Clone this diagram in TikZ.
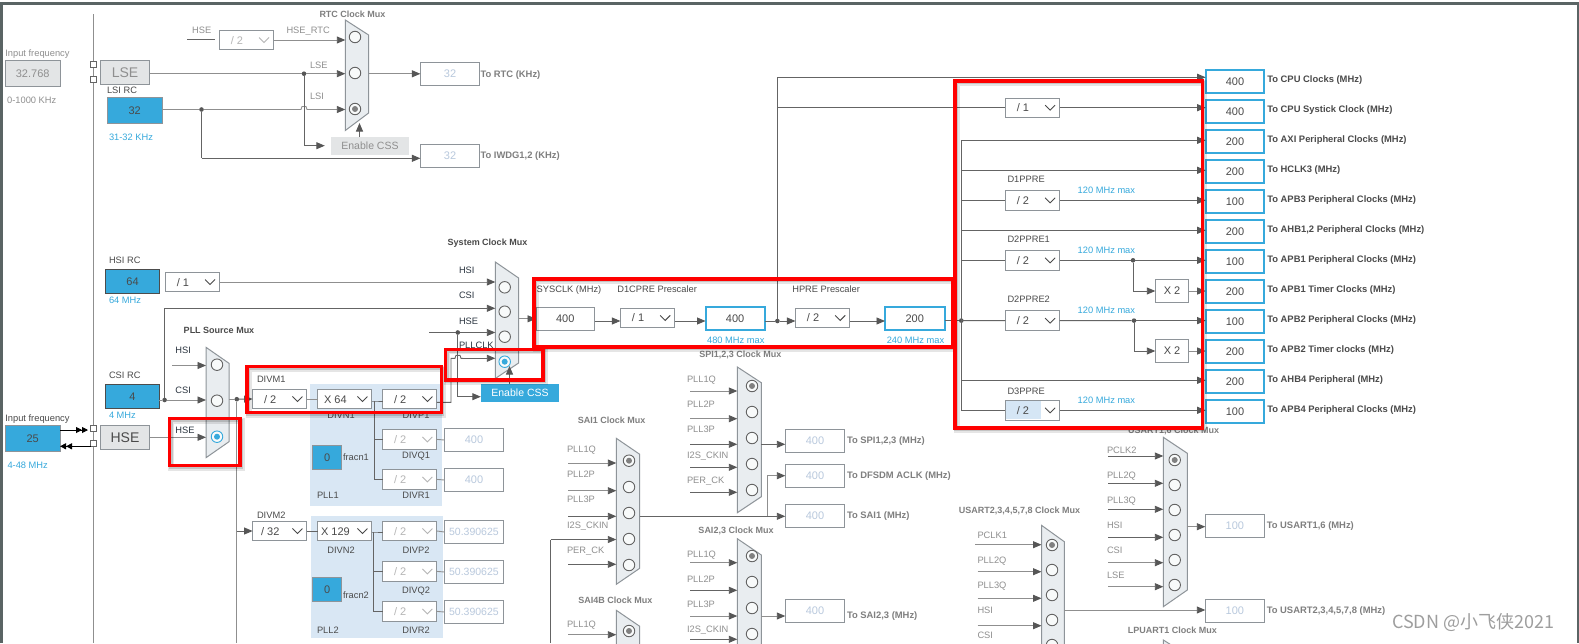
\documentclass[tikz,border=0pt]{standalone}
\usepackage{fontspec}
\setmainfont{Liberation Sans}
\newfontfamily\cjkfont{Noto Sans CJK SC}
\usetikzlibrary{arrows.meta}
\definecolor{txt}{HTML}{4A4A4A}
\definecolor{txtdark}{HTML}{2B3540}
\definecolor{txtoff}{HTML}{8F8F8F}
\definecolor{bldoff}{HTML}{7F7F7F}
\definecolor{numoff}{HTML}{B9C9DD}
\definecolor{edge}{HTML}{8E9499}
\definecolor{wire}{HTML}{646464}
\definecolor{wirelt}{HTML}{8F8F8F}
\definecolor{tip}{HTML}{565656}
\definecolor{stmblue}{HTML}{36A9DC}
\definecolor{pllbg}{HTML}{D9E7F4}
\definecolor{grayfill}{HTML}{E3E5E6}
\definecolor{muxfill}{HTML}{E9EDF0}
\definecolor{selfill}{HTML}{D5E6F5}
\definecolor{selgrey}{HTML}{B5B5B5}
\definecolor{framec}{HTML}{5A6464}
\tikzset{
  lbl/.style={anchor=west,inner sep=0pt,outer sep=0pt,font=\fontsize{9.3}{10}\selectfont,text=txt,text height=7pt,text depth=0pt},
  lbloff/.style={lbl,text=txtoff},
  lbldark/.style={lbl,text=txtdark},
  bluetxt/.style={lbl,text=stmblue},
  bld/.style={lbl,font=\fontsize{9}{10}\selectfont\bfseries,text=txt},
  bldo/.style={lbl,font=\fontsize{9}{10}\selectfont\bfseries,text=bldoff},
  towide/.style={font=\fontsize{9.4}{10}\selectfont\bfseries},
  ctr/.style={anchor=center},
  boxb/.style={draw=edge,line width=1pt,inner sep=0pt,outer sep=0pt,font=\fontsize{11}{12}\selectfont,text=txt},
  boxoff/.style={boxb,text=numoff},
  boxout/.style={boxb,draw=stmblue,line width=2pt},
  boxfill/.style={boxb,fill=stmblue,text=txt},
  boxgrey/.style={boxb,fill=grayfill,text=txtoff},
  wr/.style={draw=wire,line width=0.9pt},
  wrl/.style={draw=wirelt,line width=0.9pt},
  arr/.style={wr,-{Triangle[length=8.5pt,width=7pt,color=tip]}},
  arrl/.style={wrl,-{Triangle[length=8.5pt,width=7pt,color=tip]}},
  jdot/.style={circle,fill=tip,inner sep=0pt,minimum size=4.6pt,outer sep=0pt},
  port/.style={rectangle,draw=wire,fill=white,line width=0.8pt,minimum size=6pt,inner sep=0pt,outer sep=0pt},
  rad/.style={circle,draw=wire,fill=white!70!muxfill,line width=0.9pt,minimum size=11.5pt,inner sep=0pt},
  radb/.style={rad,draw=stmblue},
  raddot/.style={circle,inner sep=0pt,minimum size=6pt},
  redframe/.style={draw=red,line width=3.4pt},
  redshadowa/.style={draw=black,opacity=0.10,line width=6pt},
  redshadowb/.style={draw=black,opacity=0.14,line width=3.5pt},
}
\newcounter{autoid}
\newcommand{\lab}[4][lbl]{\stepcounter{autoid}\node[#1] (t\theautoid) at (#2,#3) {#4};}
\newcommand{\bx}[7][boxb]{%
  \pgfmathsetmacro\wdd{#5-#3}\pgfmathsetmacro\htt{#6-#4}%
  \pgfmathsetmacro\cxx{(#3+#5)/2}\pgfmathsetmacro\cyy{(#4+#6)/2}%
  \node[#1,minimum width=\wdd pt,minimum height=\htt pt] (#2) at (\cxx,\cyy) {#7};}
% select: name, x, y, text, colour of text and chevron, text offset
\newcommand{\sel}[6]{%
  \pgfmathsetmacro\cxx{#2+27.15}\pgfmathsetmacro\cyy{#3+9.7}%
  \pgfmathsetmacro\txx{#2+#6}%
  \pgfmathsetmacro\cha{#2+39.8}\pgfmathsetmacro\chb{#2+44.8}\pgfmathsetmacro\chc{#2+49.8}%
  \pgfmathsetmacro\chu{#3+7.2}\pgfmathsetmacro\chd{#3+12.2}%
  \node[draw=edge,fill=white,line width=1pt,minimum width=54.3pt,minimum height=19.4pt,inner sep=0pt,outer sep=0pt] (#1) at (\cxx,\cyy) {};
  \node[lbl,font=\fontsize{11}{12}\selectfont,text=#5,text height=8pt,text depth=0pt] (#1-t) at (\txx,\cyy) {#4};
  \draw[#5,line width=0.9pt] (\cha,\chu) -- (\chb,\chd) -- (\chc,\chu);}
% mux: name, xl, xr, ytop-left, ytop-right, ybot-right, ybot-left
\newcommand{\mux}[7]{%
  \pgfmathsetmacro\wdd{#3-#2}\pgfmathsetmacro\htt{#7-#4}%
  \pgfmathsetmacro\cxx{(#2+#3)/2}\pgfmathsetmacro\cyy{(#4+#7)/2}%
  \node[inner sep=0pt,outer sep=0pt,minimum width=\wdd pt,minimum height=\htt pt] (#1) at (\cxx,\cyy) {};
  \filldraw[fill=muxfill,draw=edge,line width=1pt] (#2,#4) -- (#3,#5) -- (#3,#6) -- (#2,#7) -- cycle;}
\newcommand{\rd}[3]{\stepcounter{autoid}\node[rad] (r\theautoid) at (#1,#2) {};\ifx#3n\else\node[raddot,fill=#3] (rd\theautoid) at (#1,#2) {};\fi}
\newcommand{\rdb}[2]{\stepcounter{autoid}\node[radb] (r\theautoid) at (#1,#2) {};\node[raddot,fill=stmblue] (rd\theautoid) at (#1,#2) {};}
% mux input: mux, label, label x, label y, line x, line y, label style, wire style
\newcommand{\inw}[8]{%
  \lab[#7]{#3}{#4}{#2}\coordinate (c\theautoid) at (#5,#6);
  \draw[#8] (c\theautoid) -- (#1.west |- c\theautoid);}
\begin{document}
\begin{tikzpicture}[x=1pt,y=-1pt]
\clip (0,0) rectangle (1579,643);
\useasboundingbox (0,0) rectangle (1579,643);
\fill[white] (0,0) rectangle (1579,643);
% frame
\coordinate (fa) at (1.6,643);\coordinate (fb) at (1.6,3.4);\coordinate (fc) at (1577.8,3.4);\coordinate (fd) at (1577.8,643);
\draw[draw=framec,line width=2.4pt] (fa) -- (fb) -- (fc) -- (fd);
% left bus
\coordinate (busT) at (93.5,14);\coordinate (busB) at (93.5,643);
\draw[wrl] (busT) -- (busB);
% PLL panels
\bx[fill=pllbg]{pllA}{310}{384}{442}{505.7}{}
\bx[fill=pllbg]{pllB}{311}{516}{443}{637.7}{}
% input low
\lab[lbloff]{5.4}{53}{Input frequency}
\bx[boxgrey]{lsein}{5.4}{60.3}{60}{86.3}{32.768}
\lab[lbloff]{7.2}{99.5}{0-1000 KHz}
\node[port] (p1) at (93.5,64.5) {};
\node[port] (p2) at (93.5,79.5) {};
\bx[boxgrey,font=\fontsize{14}{15}\selectfont]{lse}{100.4}{60.3}{149.6}{84.3}{LSE}
\lab[lbl]{107}{89.5}{LSI RC}
\bx[boxfill]{lsi}{107.4}{97.3}{162}{123.7}{32}
\lab[bluetxt]{109}{136.5}{31-32 KHz}
% RTC mux
\lab[bldo,ctr]{352.5}{13.7}{RTC Clock Mux}
\lab[lbloff]{192.2}{29.5}{HSE}
\coordinate (hseA) at (187,39.3);\coordinate (hseB) at (215,39.3);
\draw[wr] (hseA) -- (hseB);
\sel{selrtc}{219.3}{30.3}{/ 2}{selgrey}{11.5}
\lab[lbloff]{286.5}{29.5}{HSE\_RTC}
\mux{mrtc}{345.3}{368.6}{20}{35}{113}{130.5}
\rd{355}{37}{n}\rd{355}{73}{n}\rd{355}{109}{gray}
\draw[arrl] (selrtc.east) -- (mrtc.west |- selrtc.east);
\lab[lbloff]{310}{64.5}{LSE}
\lab[lbloff]{310}{95.5}{LSI}
\node[jdot] (d1) at (304,73.7) {};
\node[jdot] (d2) at (201.5,109.5) {};
\coordinate (bmp) at (301,109.5);
\draw[wrl] (lse.east |- d1) -- (d1);
\draw[arrl] (d1) -- (mrtc.west |- d1);
\draw[wrl] (lsi.east |- d2) -- (d2) -- (bmp) -- ++(1,-3) -- ++(4,0) -- ++(1,3) -- ++(2,0);
\coordinate (bmpb) at (307,109.5);
\draw[arrl] (bmpb) -- (mrtc.west |- bmpb);
\bx[fill=grayfill,draw=none,text=txtoff,font=\fontsize{10.5}{12}\selectfont]{css1}{331}{137}{409}{155}{Enable CSS}
\coordinate (cs1a) at (304,145.7);
\draw[wr] (d1) -- (cs1a);
\draw[arr] (cs1a) -- ([xshift=-6pt]css1.west |- cs1a);
\coordinate (cs1b) at (359.5,123);
\draw[arr] (css1.north -| cs1b) -- (cs1b);
\bx[boxoff]{oRTC}{420.4}{62.3}{479.6}{85.3}{32}
\draw[arrl] (mrtc.east |- oRTC.west) -- (oRTC.west);
\lab[bldo,towide]{480.5}{73.7}{To RTC (KHz)}
\bx[boxoff]{oIW}{420.4}{144.3}{479.6}{167.3}{32}
\lab[bldo,towide]{480.5}{154.7}{To IWDG1,2 (KHz)}
\coordinate (iwc) at (201.5,158.3);
\draw[wr] (d2) -- (iwc);
\draw[arr] (iwc) -- (oIW.west |- iwc);
% HSI
\lab[lbl]{109}{260}{HSI RC}
\bx[boxfill,draw=black!70]{hsi}{105.6}{269.3}{159.4}{293.3}{64}
\lab[bluetxt]{109}{299.7}{64 MHz}
\sel{sel1}{165.3}{272.3}{/ 1}{txt}{11.5}
% System mux
\lab[bld,ctr]{487.5}{241.7}{System Clock Mux}
\mux{msys}{495.3}{518.6}{262}{278}{363}{378.5}
\rd{504.7}{287.3}{n}\rd{504.7}{311.7}{n}\rd{504.7}{336.7}{n}\rdb{504.7}{361.7}
\lab[lbldark]{459}{269.7}{HSI}
\lab[lbldark]{459}{294.5}{CSI}
\lab[lbldark]{459}{320.5}{HSE}
\lab[lbldark]{459}{344.7}{PLLCLK}
\draw[arrl] (sel1.east) -- (msys.west |- sel1.east);
% CSI
\lab[lbl]{109}{374.7}{CSI RC}
\bx[boxfill,draw=black!70]{csi}{105.6}{384.3}{159.4}{408.3}{4}
\lab[bluetxt]{109}{415}{4 MHz}
\node[jdot] (d3) at (164.6,400) {};
\coordinate (csc) at (164.6,308.3);
\draw[wr] (d3) -- (csc);
\draw[arr] (csc) -- (msys.west |- csc);
\draw[wrl] (csi.east |- d3) -- (d3);
% HSE in system mux
\node[jdot] (d4) at (457.8,332.5) {};
\coordinate (hs0) at (429,332.5);
\draw[wr] (hs0) -- (d4);
\draw[arr] (d4) -- (msys.west |- d4);
% PLL mux
\lab[bld,ctr]{219}{329.7}{PLL Source Mux}
\mux{mpll}{206}{229}{347.3}{363.3}{441.7}{457.7}
\rd{217}{364.7}{n}\rd{217}{400.7}{n}\rdb{217}{436.7}
\inw{mpll}{HSI}{175.4}{349.7}{172}{365.5}{lbldark}{arrl}
\lab[lbldark]{175.4}{389.5}{CSI}
\lab[lbldark]{175.4}{429.7}{HSE}
\draw[arrl] (d3) -- (mpll.west |- d3);
% Input frequency HSE
\lab[lbl]{5.4}{418}{Input frequency}
\bx[boxfill]{hsein}{5.4}{425.3}{60}{451.7}{25}
\lab[bluetxt]{7.5}{464.5}{4-48 MHz}
\node[port] (p3) at (93.5,428.3) {};
\node[port] (p4) at (93.5,443.7) {};
\bx[boxgrey,text=txt,font=\fontsize{14}{15}\selectfont]{hse}{100.4}{425.3}{149.6}{449.3}{HSE}
\coordinate (if1) at (88,430);\coordinate (if2) at (60,446.3);
\draw[black,line width=0.9pt,-{Triangle[length=6pt,width=6pt,color=black]Triangle[length=6pt,width=6pt,color=black]}] (hsein.east |- if1) -- (if1);
\draw[black,line width=0.9pt,-{Triangle[length=6pt,width=6pt,color=black]Triangle[length=6pt,width=6pt,color=black]}] (p4.west |- if2) -- (if2);
\draw[arrl] (hse.east) -- (mpll.west |- hse.east);
% PLL1
\node[jdot] (d5) at (236.8,399.2) {};
\coordinate (vb) at (236.8,643);
\draw[wrl] (mpll.east |- d5) -- (d5) -- (vb);
\lab[lbl]{257}{379.3}{DIVM1}
\sel{m1}{252.6}{389.3}{/ 2}{txt}{11.5}
\sel{n1}{317.6}{389.3}{X 64}{txt}{6.5}
\sel{pp1}{382.6}{389.3}{/ 2}{txt}{11.5}
\draw[arr] (d5) -- (m1.west);
\draw[wrl] (m1.east) -- (n1.west);
\coordinate (j1) at (374.3,401);
\draw[wr] (n1.east |- j1) -- (j1) -- (pp1.west |- j1);
\lab[lbl,ctr]{341}{415}{DIVN1}
\lab[lbl,ctr]{416}{415}{DIVP1}
\sel{q1}{382.6}{429.7}{/ 2}{selgrey}{11.5}
\lab[lbl,ctr]{416}{454.7}{DIVQ1}
\sel{rr1}{382.6}{469.7}{/ 2}{selgrey}{11.5}
\lab[lbl,ctr]{416}{494.7}{DIVR1}
\draw[wr] (j1) |- (q1.west);
\draw[wr] (j1) |- (rr1.west);
\bx[boxoff,fill=white]{oq1}{444.3}{428.7}{503.6}{451.3}{400}
\bx[boxoff,fill=white]{or1}{444.3}{468.7}{503.6}{491.3}{400}
\draw[wrl] (q1.east) -- (oq1.west);
\draw[wrl] (rr1.east) -- (or1.west);
\bx[boxfill,text=txt]{fr1}{312.5}{445.3}{341.8}{469.7}{0}
\lab[lbl]{343}{456.7}{fracn1}
\lab[lbl]{317}{494.7}{PLL1}
% PLLCLK
\coordinate (k1) at (451,402.3);\coordinate (k2) at (451,358.3);\coordinate (k3) at (455,358.3);
\draw[wr] (pp1.east |- k1) -- (k1) -- (k2) -- (k3) -- ++(1,-3) -- ++(4,0) -- ++(1,3) -- ++(2,0) coordinate (k4);
\draw[arr] (k4) -- (msys.west |- k4);
\coordinate (h1) at (457.8,396.7);
\draw[wr] (d4) -- (h1);
\bx[fill=stmblue,draw=none,text=white,font=\fontsize{10.5}{12}\selectfont]{css2}{481}{384}{559}{402}{Enable CSS}
\draw[arr] (h1) -- (css2.west |- h1);
\coordinate (e2) at (509.5,366);
\draw[arr] (css2.north -| e2) -- (e2);
% PLL2
\lab[lbl]{257}{514.7}{DIVM2}
\sel{m2}{252.6}{521.3}{/ 32}{txt}{8.5}
\sel{n2}{317.6}{521.3}{X 129}{txt}{3.5}
\sel{pp2}{382.6}{521.3}{/ 2}{selgrey}{11.5}
\sel{q2}{382.6}{561.7}{/ 2}{selgrey}{11.5}
\sel{rr2}{382.6}{601.7}{/ 2}{selgrey}{11.5}
\coordinate (vm2) at (236.8,531);
\draw[arr] (vm2) -- (m2.west);
\draw[wr] (m2.east) -- (n2.west);
\coordinate (j2) at (373.2,532);
\draw[wr] (n2.east |- j2) -- (j2) -- (pp2.west |- j2);
\draw[wr] (j2) |- (q2.west);
\draw[wr] (j2) |- (rr2.west);
\lab[lbl,ctr]{341}{549.7}{DIVN2}
\lab[lbl,ctr]{416}{549.7}{DIVP2}
\lab[lbl,ctr]{416}{589.7}{DIVQ2}
\lab[lbl,ctr]{416}{629.7}{DIVR2}
\lab[lbl]{317}{629.7}{PLL2}
\bx[boxfill,text=txt]{fr2}{312.5}{577.3}{341.8}{601.7}{0}
\lab[lbl]{343}{594.7}{fracn2}
\bx[boxoff,fill=white,font=\fontsize{10.5}{12}\selectfont]{op2}{444.3}{520.7}{503.6}{543.3}{50.390625}
\bx[boxoff,fill=white,font=\fontsize{10.5}{12}\selectfont]{oq2}{444.3}{560.7}{503.6}{583.3}{50.390625}
\bx[boxoff,fill=white,font=\fontsize{10.5}{12}\selectfont]{or2}{444.3}{600.7}{503.6}{623.3}{50.390625}
\draw[wrl] (pp2.east) -- (op2.west);
\draw[wrl] (q2.east) -- (oq2.west);
\draw[wrl] (rr2.east) -- (or2.west);
% SYSCLK row
\lab[lbl]{536.7}{289.3}{SYSCLK (MHz)}
\lab[lbl]{617.3}{289.3}{D1CPRE Prescaler}
\lab[lbl]{792.3}{289.3}{HPRE Prescaler}
\bx{sys}{536}{307.3}{594.6}{330.3}{400}
\draw[arrl] (msys.east |- sys.west) -- (sys.west);
\sel{d1cp}{620.4}{308.2}{/ 1}{txt}{11.5}
\bx[boxout]{s2}{705.5}{307.3}{764.7}{330.3}{400}
\lab[bluetxt,ctr]{735.8}{339.7}{480 MHz max}
\sel{hpre}{795.4}{308.2}{/ 2}{txt}{11.5}
\bx[boxout]{s3}{885}{307.3}{944.5}{330.3}{200}
\lab[bluetxt,ctr]{915.5}{339.7}{240 MHz max}
\coordinate (rw) at (600,321);
\draw[arr] (sys.east |- rw) -- (d1cp.west |- rw);
\draw[arr] (d1cp.east |- rw) -- (s2.west |- rw);
\node[jdot] (d6) at (777.4,321) {};
\draw[wr] (s2.east |- rw) -- (d6);
\draw[arr] (d6) -- (hpre.west |- rw);
\draw[arr] (hpre.east |- rw) -- (s3.west |- rw);
\node[jdot] (bus) at (961.3,320.6) {};
\draw[wr] (s3.east |- bus) -- (bus);
% right outputs
\foreach \i/\v/\t in {1/400/To CPU Clocks (MHz),2/400/To CPU Systick Clock (MHz),3/200/To AXI Peripheral Clocks (MHz),4/200/To HCLK3 (MHz),5/100/To APB3 Peripheral Clocks (MHz),6/200/{To AHB1,2 Peripheral Clocks (MHz)},7/100/To APB1 Peripheral Clocks (MHz),8/200/To APB1 Timer Clocks (MHz),9/100/To APB2 Peripheral Clocks (MHz),10/200/To APB2 Timer clocks (MHz),11/200/To AHB4 Peripheral (MHz),12/100/To APB4 Peripheral Clocks (MHz)}{
  \pgfmathsetmacro\ya{70.3+30*(\i-1)}\pgfmathsetmacro\yb{\ya+22.3}\pgfmathsetmacro\yl{79.4+30*(\i-1)}
  \bx[boxout]{o\i}{1205.7}{\ya}{1264.3}{\yb}{\v}
  \lab[bld,towide]{1267.3}{\yl}{\t}
}
\coordinate (top) at (777.4,77.3);
\coordinate (ln2) at (777.4,107.7);
\draw[wr] (d6) -- (top);
\draw[arr] (top) -- (o1.west |- top);
\sel{s1}{1005.3}{98}{/ 1}{txt}{11.5}
\draw[wr] (ln2) -- (s1.west);
\draw[arr] (s1.east) -- (o2.west |- s1.east);
\coordinate (bt) at (961.3,140.3);\coordinate (bb) at (961.3,410.3);
\draw[wr] (bt) -- (bb);
\draw[arr] (bt) -- (o3.west |- bt);
\coordinate (l4) at (961.3,170.3);\draw[arr] (l4) -- (o4.west |- l4);
\coordinate (l6) at (961.3,230.3);\draw[arr] (l6) -- (o6.west |- l6);
\coordinate (l11) at (961.3,380.3);\draw[arr] (l11) -- (o11.west |- l11);
\lab[lbl]{1007.5}{179.3}{D1PPRE}
\lab[lbl]{1007.5}{239.3}{D2PPRE1}
\lab[lbl]{1007.5}{299.3}{D2PPRE2}
\lab[lbl]{1007.5}{391.3}{D3PPRE}
\lab[bluetxt]{1077.7}{189.7}{120 MHz max}
\lab[bluetxt]{1077.7}{249.7}{120 MHz max}
\lab[bluetxt]{1077.7}{309.7}{120 MHz max}
\lab[bluetxt]{1077.7}{399.7}{120 MHz max}
\sel{dp1}{1005.3}{190.6}{/ 2}{txt}{11.5}
\sel{dp2}{1005.3}{250.6}{/ 2}{txt}{11.5}
\sel{dp3}{1005.3}{310.9}{/ 2}{txt}{11.5}
\sel{dp4}{1005.3}{400.6}{}{txt}{11.5}
\bx[fill=selfill,draw=none]{dp4f}{1005.9}{401.2}{1041}{419.4}{}
\lab[lbl,font=\fontsize{11}{12}\selectfont,text height=8pt,text depth=0pt]{1016.8}{410.3}{/ 2}
\draw[wr] (bus.center |- dp1.west) -- (dp1.west);
\draw[wr] (bus.center |- dp2.west) -- (dp2.west);
\draw[wr] (bus.center) -- (dp3.west);
\draw[wr] (bus.center |- dp4.west) -- (dp4.west);
\draw[arr] (dp1.east) -- (o5.west |- dp1.east);
\node[jdot] (d7) at (1133,260.3) {};
\node[jdot] (d8) at (1134,320.6) {};
\draw[wr] (dp2.east) -- (d7);
\draw[arr] (d7) -- (o7.west |- d7);
\draw[wr] (dp3.east) -- (d8);
\draw[arr] (d8) -- (o9.west |- d8);
\draw[arr] (dp4.east) -- (o12.west |- dp4.east);
\bx[boxb]{x21}{1155.3}{279.7}{1188.7}{302.3}{X 2}
\bx[boxb]{x22}{1155.3}{339.7}{1188.7}{362.3}{X 2}
\draw[arr] (d7) |- (x21.west);
\draw[arr] (d8) |- (x22.west);
\draw[arrl] (x21.east) -- (o8.west |- x21.east);
\draw[arrl] (x22.east) -- (o10.west |- x22.east);
% SPI mux
\lab[bldo,ctr]{740.3}{354.3}{SPI1,2,3 Clock Mux}
\mux{mspi}{737.3}{761.3}{367}{382.7}{496.7}{512.7}
\rd{752}{386}{gray}\rd{752}{412}{n}\rd{752}{438}{n}\rd{752}{464}{n}\rd{752}{490}{n}
\inw{mspi}{PLL1Q}{687}{379.3}{690}{391}{lbloff}{arrl}
\inw{mspi}{PLL2P}{687}{404.3}{690}{418.7}{lbloff}{arrl}
\inw{mspi}{PLL3P}{687}{429.3}{690}{444.3}{lbloff}{arr}
\inw{mspi}{I2S\_CKIN}{687}{454.7}{690}{467.3}{lbloff}{arr}
\inw{mspi}{PER\_CK}{687}{479.7}{690}{492.3}{lbloff}{arr}
\bx[boxoff]{ospi}{785.3}{429.3}{844.7}{452.7}{400}
\coordinate (osp) at (761.3,444.3);
\draw[arr] (osp) -- (ospi.west |- osp);
\lab[bldo,towide]{847}{439.7}{To SPI1,2,3 (MHz)}
\bx[boxoff]{odf}{785.3}{464.3}{844.7}{487.3}{400}
\lab[bldo,towide]{847}{474.7}{To DFSDM ACLK (MHz)}
\bx[boxoff]{osai}{785.3}{504.3}{844.7}{527.3}{400}
\lab[bldo,towide]{847}{514.7}{To SAI1 (MHz)}
% SAI1 mux
\lab[bldo,ctr]{611.7}{419.7}{SAI1 Clock Mux}
\mux{msai}{616.3}{639.7}{438.3}{454.3}{568.3}{584.3}
\rd{629}{460.7}{gray}\rd{629}{487}{n}\rd{629}{513}{n}\rd{629}{539}{n}\rd{629}{565}{n}
\inw{msai}{PLL1Q}{567}{449.3}{568}{463}{lbloff}{arrl}
\inw{msai}{PLL2P}{567}{474.3}{568}{490.7}{lbloff}{arrl}
\inw{msai}{PLL3P}{567}{499.3}{568}{516.3}{lbloff}{arr}
\lab[lbloff]{567}{524.7}{I2S\_CKIN}
\inw{msai}{PER\_CK}{567}{549.7}{568}{564.3}{lbloff}{arr}
\coordinate (i2sa) at (550.6,643);\coordinate (i2sb) at (550.6,539.5);
\draw[wr] (i2sa) -- (i2sb);
\draw[arr] (i2sb) -- (msai.west |- i2sb);
\coordinate (jsai) at (767.3,516.3);
\coordinate (jdf) at (767.3,475.7);
\draw[wr] (msai.east |- jsai) -- (jsai);
\draw[arr] (jsai) -- (osai.west |- jsai);
\draw[wrl] (jsai) -- (jdf);
\draw[arrl] (jdf) -- (odf.west |- jdf);
% SAI2,3
\lab[bldo,ctr]{736}{529.7}{SAI2,3 Clock Mux}
\mux{msa2}{737.3}{761.3}{538.7}{555}{669}{685}
\rd{752}{556}{gray}\rd{752}{582}{n}\rd{752}{608}{n}\rd{752}{634}{n}
\inw{msa2}{PLL1Q}{687}{554.3}{690}{562.7}{lbloff}{arrl}
\inw{msa2}{PLL2P}{687}{579.3}{690}{590.3}{lbloff}{arr}
\inw{msa2}{PLL3P}{687}{604.3}{690}{616}{lbloff}{arrl}
\inw{msa2}{I2S\_CKIN}{687}{629.3}{690}{639.3}{lbloff}{arr}
\bx[boxoff]{osa2}{785.3}{599.3}{844.7}{622.5}{400}
\coordinate (osb) at (761.3,616);
\draw[arrl] (osb) -- (osa2.west |- osb);
\lab[bldo,towide]{847}{614.5}{To SAI2,3 (MHz)}
% SAI4B
\lab[bldo,ctr]{615.3}{599.7}{SAI4B Clock Mux}
\mux{msa4}{616.3}{639.7}{610.3}{626.3}{760}{776}
\rd{629}{631}{gray}
\inw{msa4}{PLL1Q}{567}{624.3}{568}{634.7}{lbloff}{arrl}
% USART1,6
\lab[bldo,ctr]{1173.5}{429.7}{USART1,6 Clock Mux}
\mux{mu1}{1163.3}{1187.3}{437.3}{453.3}{590}{606.7}
\rd{1174.7}{460}{gray}\rd{1174.7}{485}{n}\rd{1174.7}{510}{n}\rd{1174.7}{535}{n}\rd{1174.7}{560}{n}\rd{1174.7}{585}{n}
\inw{mu1}{PCLK2}{1107}{449.7}{1108}{456}{lbloff}{arr}
\inw{mu1}{PLL2Q}{1107}{474.7}{1108}{483.3}{lbloff}{arr}
\inw{mu1}{PLL3Q}{1107}{499.7}{1108}{509.3}{lbloff}{arr}
\inw{mu1}{HSI}{1107}{524.7}{1108}{537.3}{lbloff}{arr}
\inw{mu1}{CSI}{1107}{549.7}{1108}{562.7}{lbloff}{arrl}
\inw{mu1}{LSE}{1107}{574.7}{1108}{586.7}{lbloff}{arrl}
\bx[boxoff]{ou1}{1205.3}{514.3}{1264.4}{537.3}{100}
\coordinate (ou1c) at (1187.3,526.7);
\draw[arrl] (ou1c) -- (ou1.west |- ou1c);
\lab[bldo,towide]{1266.8}{524.7}{To USART1,6 (MHz)}
% USART2
\lab[bldo,ctr]{1019.5}{509.7}{USART2,3,4,5,7,8 Clock Mux}
\mux{mu2}{1041.5}{1064.3}{525.3}{541.7}{680}{696}
\rd{1052}{545}{gray}\rd{1052}{570}{n}\rd{1052}{595}{n}\rd{1052}{620}{n}\rd{1052}{645}{n}
\inw{mu2}{PCLK1}{977.5}{534.7}{975}{544.7}{lbloff}{arrl}
\inw{mu2}{PLL2Q}{977.5}{559.7}{977.5}{571.7}{lbloff}{arrl}
\inw{mu2}{PLL3Q}{977.5}{584.7}{977.5}{598.3}{lbloff}{arrl}
\inw{mu2}{HSI}{977.5}{609.7}{977.5}{625.7}{lbloff}{arrl}
\lab[lbloff]{977.5}{634.7}{CSI}
\bx[boxoff]{ou2}{1205.3}{599.3}{1264.4}{622.3}{100}
\coordinate (ou2c) at (1064.3,610);
\draw[arrl] (ou2c) -- (ou2.west |- ou2c);
\lab[bldo,towide]{1266.8}{609.7}{To USART2,3,4,5,7,8 (MHz)}
% LPUART
\lab[bldo,ctr]{1172.3}{629.7}{LPUART1 Clock Mux}
\mux{mlp}{1163.3}{1187.3}{640}{655}{760}{776}
% watermark
\lab[lbl,font=\cjkfont\fontsize{18}{20}\selectfont,text=black!38,text height=13pt,text depth=4pt]{1392}{624}{CSDN @小飞侠2021}
% red frames
\foreach \nm/\xa/\ya/\xb/\yb in {ra/247/366.7/441.5/412.7,rb/169.6/418.7/240/465.7,rc/445.7/349.3/543/380,rd/534/279/952.4/347,re/955/81/1202.5/428}{
  \draw[redshadowa] ([shift={(1.5,2)}]\xa,\ya) rectangle ([shift={(1.5,2)}]\xb,\yb);
  \draw[redshadowb] ([shift={(1.2,1.6)}]\xa,\ya) rectangle ([shift={(1.2,1.6)}]\xb,\yb);
}
\foreach \nm/\xa/\ya/\xb/\yb in {ra/247/366.7/441.5/412.7,rb/169.6/418.7/240/465.7,rc/445.7/349.3/543/380,rd/534/279/952.4/347,re/955/81/1202.5/428}{
  \node[redframe,minimum width={(\xb-\xa)*1pt},minimum height={(\yb-\ya)*1pt},inner sep=0pt,outer sep=0pt] (\nm) at ({(\xa+\xb)/2},{(\ya+\yb)/2}) {};
}
\end{tikzpicture}
\end{document}
